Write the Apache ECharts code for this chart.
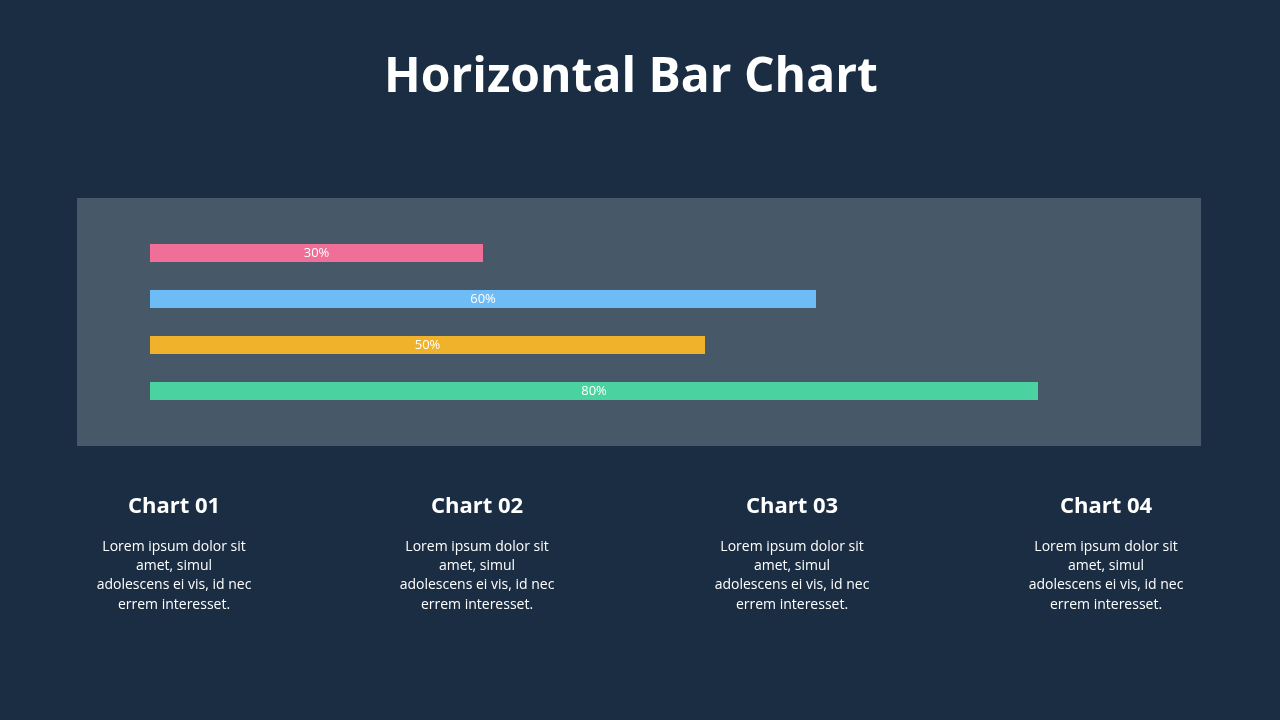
<!DOCTYPE html>
<html>
<head>
<meta charset="utf-8">
<script src="https://cdn.jsdelivr.net/npm/echarts@6/dist/echarts.min.js"></script>
<style>
  html, body { margin: 0; padding: 0; background: #1b2d42; }
  #main { width: 1280px; height: 720px; }
</style>
</head>
<body>
<div id="main"></div>
<script>
const categories = ['Chart 01', 'Chart 02', 'Chart 03', 'Chart 04'];
const values = [30, 60, 50, 80];
const barColors = ['#f06f99', '#6dbcf6', '#f0b12b', '#4ad3a0'];
const captionTitles = ['Chart 01', 'Chart 02', 'Chart 03', 'Chart 04'];
const captionText = 'Lorem ipsum dolor sit\namet, simul\nadolescens ei vis, id nec\nerrem interesset.';
const captionX = [174, 477, 792, 1106];

const chart = echarts.init(document.getElementById('main'));

// captions under the panel
let captions = [];
captionTitles.forEach(function (t, i) {
    captions.push({
        type: 'text',
        x: captionX[i],
        y: 507,
        style: {
            text: t,
            fill: '#ffffff',
            font: 'bold 22px "Open Sans"',
            textAlign: 'center',
            textVerticalAlign: 'middle'
        }
    });
    captions.push({
        type: 'text',
        x: captionX[i],
        y: 537,
        style: {
            text: captionText,
            fill: '#ffffff',
            font: '14px "Open Sans"',
            lineHeight: 19.3,
            textAlign: 'center',
            textVerticalAlign: 'top'
        }
    });
});

chart.setOption({
    backgroundColor: '#1b2d42',
    title: {
        text: 'Horizontal Bar Chart',
        left: 379,
        top: 49,
        textStyle: {
            color: '#ffffff',
            fontFamily: 'Open Sans',
            fontWeight: 'bold',
            fontSize: 48
        }
    },
    graphic: [
        {
            type: 'rect',
            z: -10,
            shape: { x: 77, y: 198, width: 1124, height: 248 },
            style: { fill: '#475868' }
        }
    ].concat(captions),
    grid: {
        left: 150,
        right: 20,
        top: 230,
        height: 184,
        containLabel: false
    },
    xAxis: {
        type: 'value',
        min: 0,
        max: 100,
        show: false
    },
    yAxis: {
        type: 'category',
        data: categories,
        inverse: true,
        show: false
    },
    series: [
        {
            type: 'bar',
            data: values.map(function (v, i) {
                return { value: v, itemStyle: { color: barColors[i] } };
            }),
            barWidth: 18,
            label: {
                show: true,
                position: 'inside',
                color: '#ffffff',
                fontFamily: 'Open Sans',
                fontSize: 13,
                formatter: '{c}%'
            }
        }
    ]
});
</script>
</body>
</html>
